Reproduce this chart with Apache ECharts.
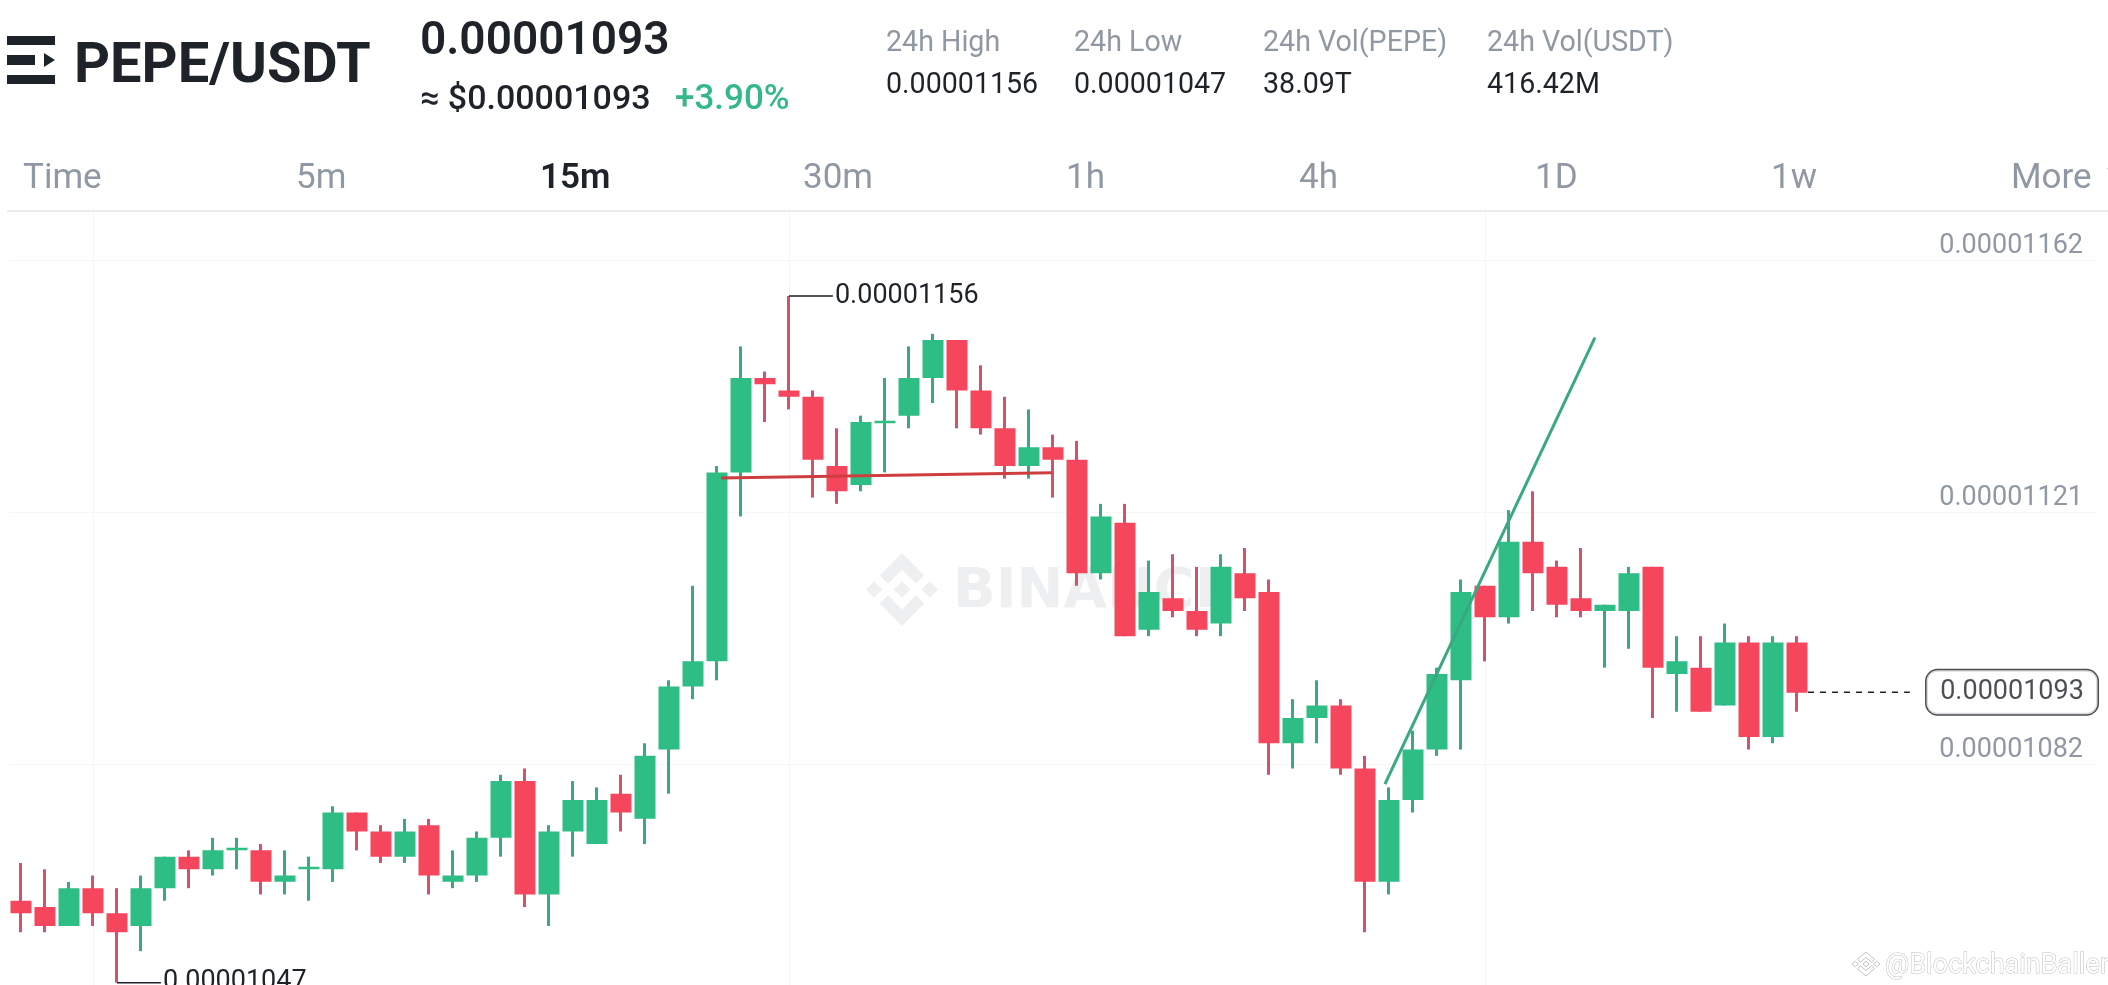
<!DOCTYPE html>
<html>
<head>
<meta charset="utf-8">
<title>PEPE/USDT</title>
<script src="https://cdn.jsdelivr.net/npm/echarts@6/dist/echarts.min.js"></script>
<style>
html,body{margin:0;padding:0;background:#fff;overflow:hidden}
#main{width:2108px;height:985px}
</style>
</head>
<body>
<div id="main"></div>
<script>
// prices are in units of 0.00000001
var opens = [1060,1059,1056,1062,1058,1056,1062,1067,1065,1068,1068,1063,1065,1065,1074,1071,1067,1072,1063,1064,1070,1079,1061,1071,1069,1077,1073,1084,1094,1098,
    1128,1143,1141,1140,1129,1126,1135.8,1137,1143,1149,1141,1135,1129,1132,1130,1112,1120,1103,1108,1106,1104,1112,1109,1085,1089,1091,1081,1063,1076,1084,
    1095,1110,1105,1117,1113,1108,1106,1106,1113,1096,1097,1091,1101,1086,1101];
var closes = [1058,1056,1062,1058,1055,1062,1067,1065,1068,1068.4,1063,1064,1065.4,1074,1071,1067,1071,1064,1064,1070,1079,1061,1071,1076,1076,1074,1083,1094,1098,1128,
    1143,1142,1140,1130,1125,1136,1136.2,1143,1149,1141,1135,1129,1132,1130,1112,1121,1102,1109,1106,1103,1113,1108,1085,1089,1091,1081,1063,1076,1084,1096,
    1109,1105,1117,1112,1107,1106,1107,1112,1097,1098,1090,1101,1086,1101,1093];
var lows = [1055,1055,1056,1056,1047,1052,1060,1062,1064,1065,1061,1061,1060,1063,1068,1066,1066,1061,1062,1063,1067,1059,1056,1067,1069,1071,1069,1077,1092,1095,
    1121,1136,1138,1124,1123,1125,1128,1135,1139,1135,1134,1127,1127,1124,1110,1111,1102,1102,1105,1102,1102,1106,1080,1081,1085,1080,1055,1061,1074,1083,
    1084,1098,1104,1106,1105,1105,1097,1100,1089,1090,1090,1091,1084,1085,1090];
var highs = [1066,1065,1063,1064,1062,1064,1067,1068,1070,1070,1069,1068,1067,1075,1074,1072,1073,1073,1068,1071,1080,1081,1072,1079,1078,1080,1085,1095,1110,1129,
    1148,1144,1156,1141,1135,1137,1143,1148,1150,1149,1145,1140,1138,1134,1133,1123,1123,1114,1115,1113,1115,1116,1111,1092,1095,1092,1083,1078,1087,1097,
    1111,1110,1122,1125,1114,1116,1107,1113,1113,1102,1102,1104,1102,1102,1102];

var yTickValues = [1161.6,1121.6,1081.6];
var yTickLabels = ['0.00001162','0.00001121','0.00001082'];
var lastPrice = 1093.1;
var lastPriceLabel = '0.00001093';
var highMark = {index:32,price:1156,label:'0.00001156'};
var lowMark = {index:4,price:1047,label:'0.00001047'};
var redTrend = [[29.67,1127.1],[43.46,1127.95]];
var greenTrend = [[57.33,1078.5],[66.08,1149.4]];

var symbolName = 'PEPE/USDT';
var priceText = '0.00001093';
var usdText = '≈ $0.00001093';
var changeText = '+3.90%';
var statLabels = ['24h High','24h Low','24h Vol(PEPE)','24h Vol(USDT)'];
var statValues = ['0.00001156','0.00001047','38.09T','416.42M'];
var statX = [886,1074,1263,1487];
var tabs = ['Time','5m','15m','30m','1h','4h','1D','1w','More ▼'];
var tabX = [23,296,540,803,1066,1299,1535,1771,2011];

var GREEN = '#2ebd85', RED = '#f6465d', GREEN_WICK = '#3ea781', RED_WICK = '#c9566d';
var DARK = '#1e2329', GREY = '#8f98a3';
var FONT = 'Roboto';
// binance mark, five pieces on a 24x24 box
var logoPieces = [
    [[16.62,13.92],[19.34,16.64],[11.99,23.99],[4.63,16.64],[7.35,13.92],[11.99,18.58]],
    [[21.26,9.28],[24,12],[21.28,14.72],[18.57,12]],
    [[11.99,9.28],[14.7,11.97],[11.99,14.69],[9.27,12]],
    [[2.72,9.28],[5.43,12],[2.72,14.72],[0,12]],
    [[11.99,0.01],[19.34,7.34],[16.62,10.06],[11.99,5.42],[7.35,10.08],[4.63,7.36]]
];

var categories = [];
for (var i = 0; i < 87; i++) {
    categories.push(String(i));
}
var candleData = [];
for (var j = 0; j < opens.length; j++) {
    candleData.push([opens[j],closes[j],lows[j],highs[j]]);
}

function headerText(text,x,y,size,weight,color) {
    return {type:'text',silent:true,style:{text:text,x:x,y:y,fontFamily:FONT,fontSize:size,fontWeight:weight,fill:color,verticalAlign:'middle'}};
}

function logo(x,y,w,h,z,style) {
    return logoPieces.map(function (piece) {
        return {
            type:'polygon',z:z,silent:true,
            shape:{points:piece.map(function (p) {return [x + p[0] * w / 24,y + p[1] * h / 24];})},
            style:style
        };
    });
}

var graphics = [
    {type:'rect',shape:{x:7,y:36,width:48,height:9},style:{fill:DARK}},
    {type:'rect',shape:{x:7,y:55,width:28,height:10},style:{fill:DARK}},
    {type:'polygon',shape:{points:[[44,53],[55,60],[44,67]]},style:{fill:DARK}},
    {type:'rect',shape:{x:7,y:75,width:48,height:9},style:{fill:DARK}},
    {type:'rect',shape:{x:7,y:210,width:2101,height:2},style:{fill:'#ebecee'}},
    headerText(symbolName,74,68,56,700,DARK),
    headerText(priceText,420,42,46,600,DARK),
    headerText(usdText,420,100,34,500,DARK),
    headerText(changeText,675,100,35,500,'#35b888'),
    // watermarks
    {type:'text',z:-1,silent:true,style:{text:'BINANCE',x:953,y:592,fontFamily:'DejaVu Sans',fontSize:56,fontWeight:700,fill:'#eeeff0',verticalAlign:'middle'}},
    {type:'text',silent:true,style:{text:'@BlockchainBaller',x:1885,y:966,fontFamily:FONT,fontSize:27,fill:'#fff',stroke:'#bdbdbd',lineWidth:1,verticalAlign:'middle'}}
];
graphics = graphics.concat(logo(866,553,72,73,-1,{fill:'#eeeff0'}));
graphics = graphics.concat(logo(1852,952,28,24,0,{fill:'#fff',stroke:'#c4c4c4',lineWidth:1}));
for (var k = 0; k < statLabels.length; k++) {
    graphics.push(headerText(statLabels[k],statX[k],44,28.6,400,GREY));
    graphics.push(headerText(statValues[k],statX[k],86,28.6,400,DARK));
}
for (var t = 0; t < tabs.length; t++) {
    graphics.push(headerText(tabs[t],tabX[t],179,35,tabs[t] == '15m' ? 600 : 400,tabs[t] == '15m' ? DARK : GREY));
}

function markLineSeries(name,mark) {
    var x = mark.index + 0.5;
    return {
        type:'line',name:name,xAxisIndex:1,symbol:'none',silent:true,z:6,
        lineStyle:{color:DARK,width:1.5},
        data:[[x,mark.price],[x + 1.83,mark.price]],
        endLabel:{show:true,formatter:mark.label,color:DARK,fontFamily:FONT,fontSize:27,distance:2}
    };
}

var myChart = echarts.init(document.getElementById('main'));
var option = {
    animation:false,
    backgroundColor:'#fff',
    graphic:graphics,
    grid:{left:9,top:212,width:2088,height:773,containLabel:false},
    xAxis:[{
        type:'category',
        data:categories,
        axisLine:{show:false},
        axisTick:{show:false,alignWithLabel:true},
        axisLabel:{show:false},
        splitLine:{show:true,alignWithLabel:true,interval:function (index) {return (index - 3) % 29 == 0;},lineStyle:{color:'#f5f6f6',width:1}}
    },{
        type:'value',min:0,max:87,show:false,splitLine:{show:false}
    }],
    yAxis:{
        type:'value',
        position:'right',
        min:1046.63,
        max:1169.33,
        axisLine:{show:false},
        axisTick:{show:false,customValues:yTickValues},
        axisLabel:{
            inside:true,
            margin:14,
            customValues:yTickValues,
            color:GREY,
            fontFamily:FONT,
            fontSize:27,
            lineHeight:28,
            verticalAlign:'middle',
            // the blank second line lifts the label above its grid line
            formatter:function (value) {
                return yTickLabels[yTickValues.indexOf(value)] + '\n ';
            }
        },
        splitLine:{show:true,lineStyle:{color:'#f5f6f6',width:1}}
    },
    series:[{
        // wicks
        type:'candlestick',name:'wick',barWidth:1,silent:true,z:2,
        data:candleData,
        itemStyle:{color:GREEN_WICK,color0:RED_WICK,borderColor:GREEN_WICK,borderColor0:RED_WICK,borderWidth:3}
    },{
        // bodies
        type:'candlestick',name:'PEPE/USDT',barWidth:21,silent:true,z:3,
        data:candleData,
        itemStyle:{color:GREEN,color0:RED,borderWidth:0}
    },{
        type:'line',name:'red trend',xAxisIndex:1,symbol:'none',silent:true,z:5,
        data:redTrend,
        lineStyle:{color:'#cf3e3e',width:3}
    },{
        type:'line',name:'green trend',xAxisIndex:1,symbol:'none',silent:true,z:5,
        data:greenTrend,
        lineStyle:{color:'#3aa981',width:3}
    },
    markLineSeries('24h high',highMark),
    markLineSeries('24h low',lowMark),
    {
        type:'line',name:'last price',xAxisIndex:1,symbol:'none',silent:true,z:5,
        data:[[74.96,lastPrice],[79.2,lastPrice]],
        lineStyle:{color:DARK,width:1.5,type:[6,6]}
    },{
        type:'scatter',name:'last price label',xAxisIndex:1,symbolSize:0,silent:true,z:6,
        data:[[83.46,lastPrice]],
        label:{
            show:true,position:'inside',formatter:lastPriceLabel,color:DARK,fontFamily:FONT,fontSize:27,
            width:171,height:44,lineHeight:44,align:'center',verticalAlign:'middle',
            backgroundColor:'#fff',borderColor:DARK,borderWidth:1.5,borderRadius:11
        }
    }]
};
myChart.setOption(option);
</script>
</body>
</html>
